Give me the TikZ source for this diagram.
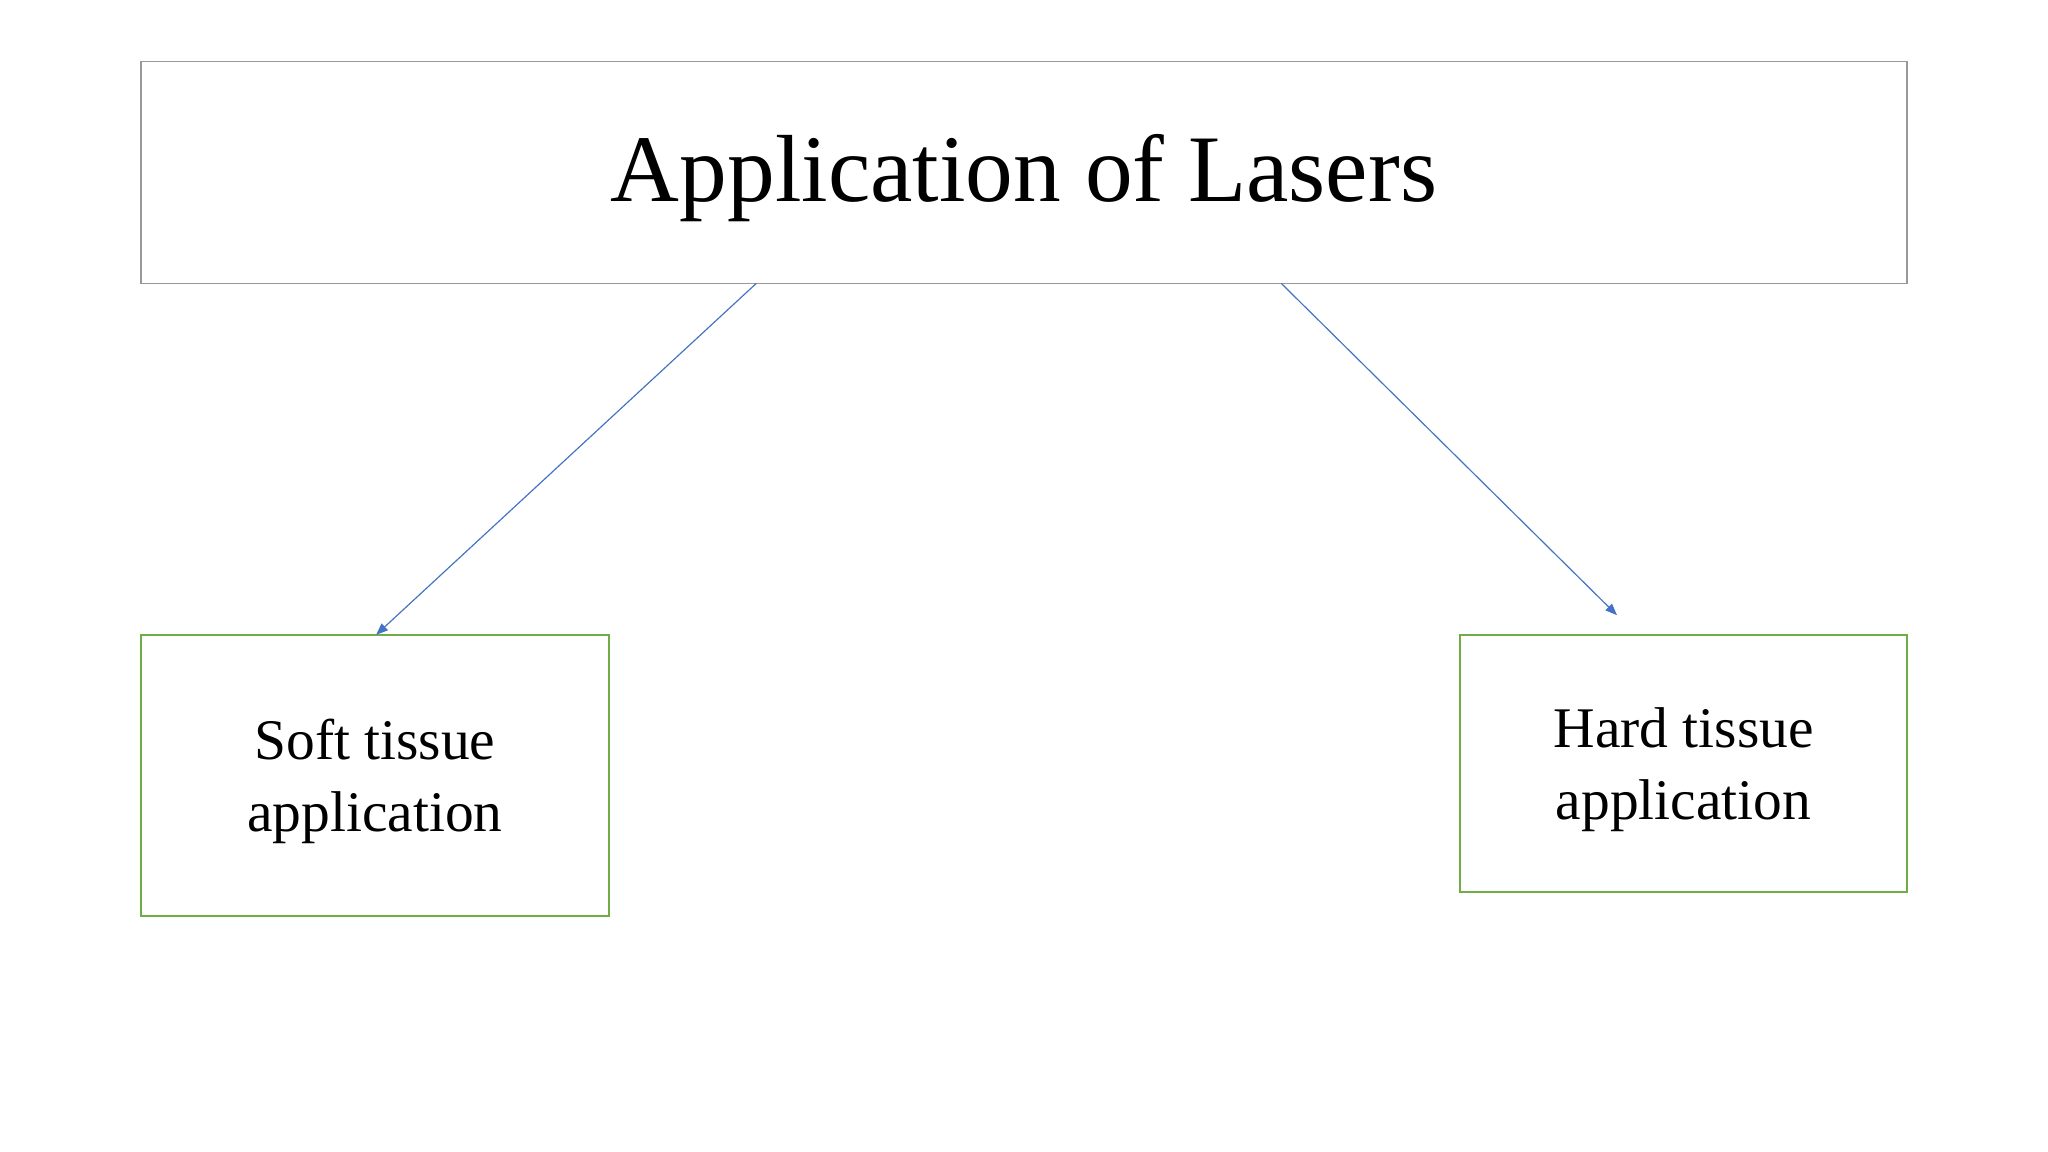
\documentclass[tikz,border=0pt]{standalone}
\usepackage{fontspec}
\setmainfont{Liberation Serif}
\usetikzlibrary{arrows.meta}
\definecolor{lblue}{HTML}{4472C4}
\definecolor{lgreen}{HTML}{70AD47}
\begin{document}
\begin{tikzpicture}[x=1pt,y=-1pt,
  gbox/.style={draw=lgreen,line width=1.5pt},
  lbl/.style={align=center,font=\fontsize{44}{55}\selectfont},
  conn/.style={draw=lblue,line width=0.9pt,-{Triangle[length=9pt,width=7pt]}}]
\useasboundingbox (0,0) rectangle (1568,882);
\fill[white] (0,0) rectangle (1568,882);
\draw[draw=gray!80,line width=1pt] (108,47) rectangle (1460,217);
\node[font=\fontsize{73}{88}\selectfont] (title) at (784,136) {Application of Lasers};
\draw[gbox] (108,486) rectangle (466,701);
\node[lbl] (soft) at (287,598) {Soft tissue\\application};
\draw[gbox] (1118,486) rectangle (1460,683);
\node[lbl] (hard) at (1289,589) {Hard tissue\\application};
\coordinate (a1) at (579,217);
\coordinate (b1) at (288,486);
\coordinate (a2) at (981,217);
\coordinate (b2) at (1238,471);
\draw[conn] (a1) -- (b1);
\draw[conn] (a2) -- (b2);
\end{tikzpicture}
\end{document}
